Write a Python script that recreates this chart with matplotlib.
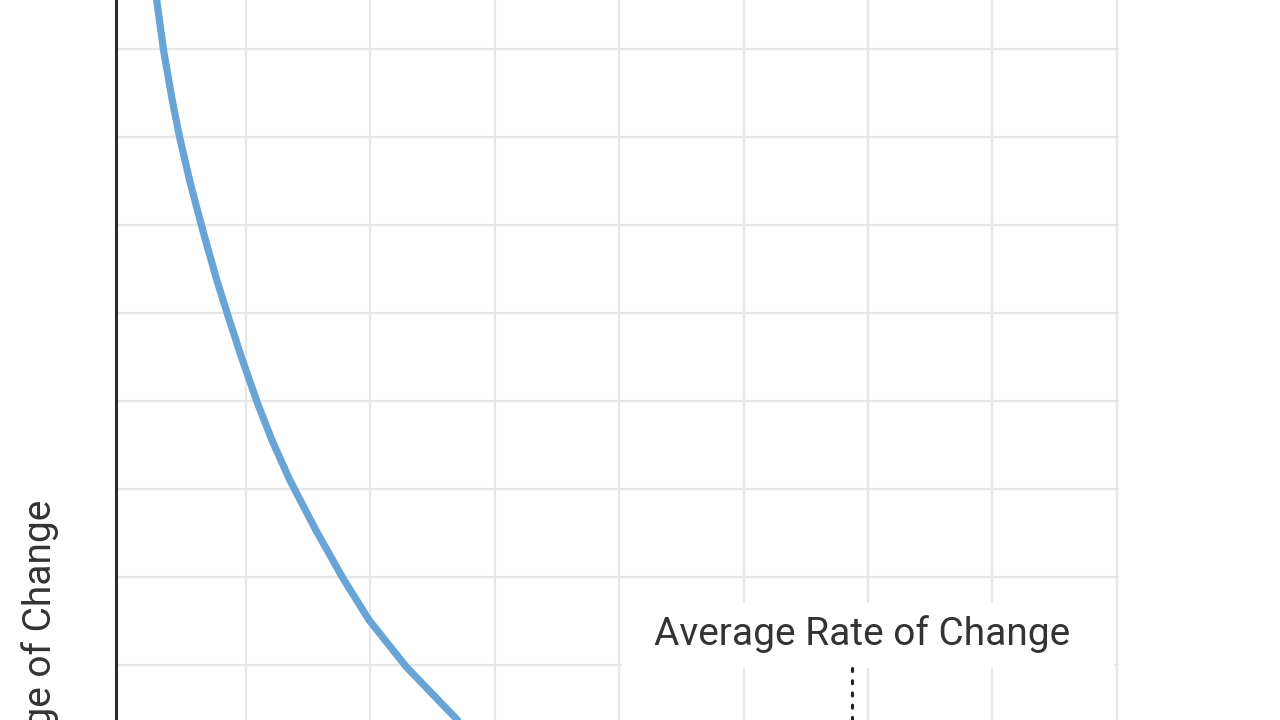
import numpy as np
import matplotlib
matplotlib.use("Agg")
import matplotlib.pyplot as plt
from matplotlib.patches import Rectangle

# curve (grid units, x = vertical gridlines, y = horizontal gridlines)
curve_x = [0.282, 0.337, 0.407, 0.466, 0.552, 0.652, 0.758, 0.848, 0.963, 1.089,
           1.208, 1.352, 1.561, 1.778, 1.989, 2.290, 2.700]
curve_y = [8.557, 7.989, 7.420, 7.0, 6.477, 5.943, 5.409, 5.0, 4.5, 3.989,
           3.557, 3.102, 2.534, 1.989, 1.511, 0.977, 0.375]

grid_x = [1, 2, 3, 4, 5, 6, 7, 8]
grid_y = [1, 2, 3, 4, 5, 6, 7, 8]

label_text = "Average Rate of Change"
ylabel_text = "Percentage of Change"
marker_x = 5.87

plt.rcParams['font.family'] = ['Roboto', 'DejaVu Sans']

fig = plt.figure(figsize=(12.8, 7.2), dpi=100)
ax = fig.add_axes([116 / 1280, 0, (1119 - 116) / 1280, 1])

ax.set_xlim(-0.045, 8.018)
ax.set_ylim(0.375, 8.557)
ax.set_xticks(grid_x)
ax.set_yticks(grid_y)
ax.tick_params(length=0, labelbottom=False, labelleft=False)
ax.grid(True, color='#e6e6e6', linewidth=1.6, zorder=0)
ax.set_axisbelow(True)

for s in ['top', 'right', 'bottom']:
    ax.spines[s].set_visible(False)
ax.spines['left'].set_color('#2b2b2b')
ax.spines['left'].set_linewidth(2.2)

ax.plot(curve_x, curve_y, color='#68a4d6', linewidth=5.2, solid_capstyle='round',
        solid_joinstyle='round', zorder=3)

# white box behind the label
ax.add_patch(Rectangle((4.02, 0.966), 3.96, 0.74, facecolor='white', edgecolor='none', zorder=1))
ax.text(5.95, 1.35, label_text, ha='center', va='center', fontsize=28, color='#333333', zorder=4)

ax.plot([marker_x, marker_x], [0.966, 0.3], color='#222222', linewidth=2.2,
        linestyle=(0, (1, 3)), dash_capstyle='round', zorder=4)

fig.text(40 / 1280, 1 - 500 / 720, ylabel_text, rotation=90, ha='center', va='top',
         fontsize=28, color='#333333')

fig.savefig('out.png', dpi=100)
